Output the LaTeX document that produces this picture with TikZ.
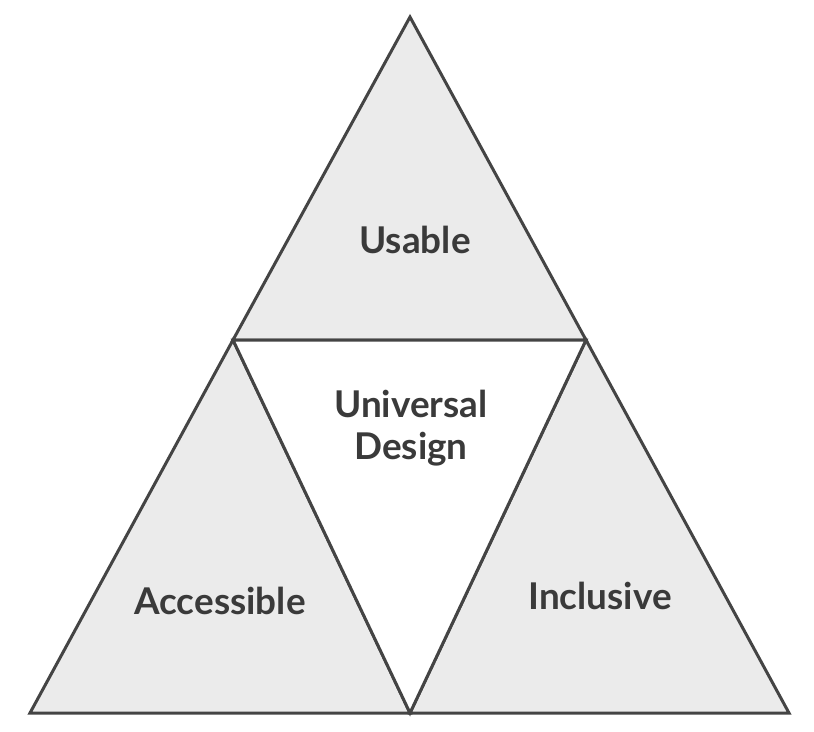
\documentclass[tikz,border=0pt]{standalone}
\usepackage{fontspec}
\newfontfamily\udfont{Lato}
\definecolor{ccgris}{RGB}{235,235,235}
\definecolor{cctrait}{RGB}{68,68,68}
\definecolor{cctexte}{RGB}{58,58,58}
\tikzset{
  piece/.style={draw=cctrait, line width=3bp, line join=miter, fill=ccgris},
  label/.style={font=\udfont\bfseries\fontsize{37}{42}\selectfont, text=cctexte, anchor=base, inner sep=0pt, align=center},
}

\begin{document}
\begin{tikzpicture}[x=1bp, y=-1bp]

  % Bounding box of the scheme
  \useasboundingbox (0,0) rectangle (814,732) ;
  \fill[white] (0,0) rectangle (814,732) ;

  %%%%%%%%%%%%%%%%%%%%%%%%%%%%%%%%% Sommets %%%%%%%%%%%%%%%%%%%%%%%%%%%%%%%%%%%%
  \coordinate (A) at (410,17) ;
  \coordinate (B) at (30,713) ;
  \coordinate (C) at (789,713) ;
  \coordinate (AB) at (233,340) ;
  \coordinate (AC) at (586,340) ;
  \coordinate (BC) at (410,713) ;

  %%%%%%%%%%%%%%%%%%%%%%%%%%%%%%%%% Triangles %%%%%%%%%%%%%%%%%%%%%%%%%%%%%%%%%%%%
  \draw[piece] (A) -- (AB) -- (AC) -- cycle ;
  \draw[piece] (AB) -- (B) -- (BC) -- cycle ;
  \draw[piece] (AC) -- (BC) -- (C) -- cycle ;
  \draw[piece, fill=white] (AB) -- (AC) -- (BC) -- cycle ;

  %%%%%%%%%%%%%%%%%%%%%%%%%%%%%%%%% Textes %%%%%%%%%%%%%%%%%%%%%%%%%%%%%%%%%%%%
  \draw (415,253) node[label] (usable) {Usable} ;
  \draw (411,459) node[label] (universal) {Universal\\Design} ;
  \draw (220,614) node[label] (accessible) {Accessible} ;
  \draw (600,609) node[label] (inclusive) {Inclusive} ;

\end{tikzpicture}
\end{document}
